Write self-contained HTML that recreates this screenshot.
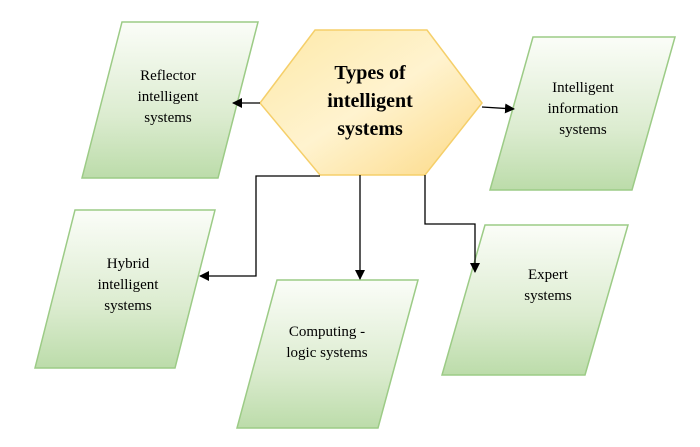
<!DOCTYPE html>
<html><head><style>body{margin:0;background:#fff}svg{display:block}</style></head><body>
<svg width="700" height="447" xmlns="http://www.w3.org/2000/svg" font-family="'Liberation Serif',serif">
<defs>
<linearGradient id="g" x1="0" y1="0" x2="0" y2="1"><stop offset="0" stop-color="#fbfdf8"/><stop offset="0.6" stop-color="#dcecd0"/><stop offset="1" stop-color="#bcdcaa"/></linearGradient>
<linearGradient id="h" x1="0" y1="0" x2="1" y2="1"><stop offset="0" stop-color="#fde9a8"/><stop offset="0.5" stop-color="#fff3cf"/><stop offset="1" stop-color="#fcd985"/></linearGradient>
<marker id="a" markerWidth="10" markerHeight="10" refX="9" refY="5" orient="auto" markerUnits="userSpaceOnUse"><path d="M0,0 L10,5 L0,10z" fill="#000"/></marker>
</defs>
<g stroke="#9ccb86" stroke-width="1.5" fill="url(#g)">
<polygon points="122,22 258,22 218,178 82,178"/>
<polygon points="533,37 675,37 632,190 490,190"/>
<polygon points="75,210 215,210 175,368 35,368"/>
<polygon points="277,280 418,280 378,428 237,428"/>
<polygon points="485,225 628,225 585,375 442,375"/>
</g>
<polygon points="260,103 315,30 427,30 482,103 425,175 320,175" fill="url(#h)" stroke="#f5cf6a" stroke-width="1.5"/>
<g stroke="#000" stroke-width="1.3" fill="none">
<line x1="260" y1="103" x2="233" y2="103" marker-end="url(#a)"/>
<line x1="482" y1="107" x2="514" y2="109" marker-end="url(#a)"/>
<polyline points="320,176 256,176 256,276 200,276" marker-end="url(#a)"/>
<line x1="360" y1="175" x2="360" y2="279" marker-end="url(#a)"/>
<polyline points="425,175 425,224 475,224 475,272" marker-end="url(#a)"/>
</g>
<g text-anchor="middle" font-weight="bold" font-size="20">
<text x="370" y="79">Types of</text><text x="370" y="107">intelligent</text><text x="370" y="135">systems</text>
</g>
<g text-anchor="middle" font-size="15">
<text x="168" y="80">Reflector</text><text x="168" y="101">intelligent</text><text x="168" y="122">systems</text>
<text x="583" y="92">Intelligent</text><text x="583" y="113">information</text><text x="583" y="134">systems</text>
<text x="128" y="268">Hybrid</text><text x="128" y="289">intelligent</text><text x="128" y="310">systems</text>
<text x="327" y="336">Computing -</text><text x="327" y="357">logic systems</text>
<text x="548" y="279">Expert</text><text x="548" y="300">systems</text>
</g>
</svg>
</body></html>
